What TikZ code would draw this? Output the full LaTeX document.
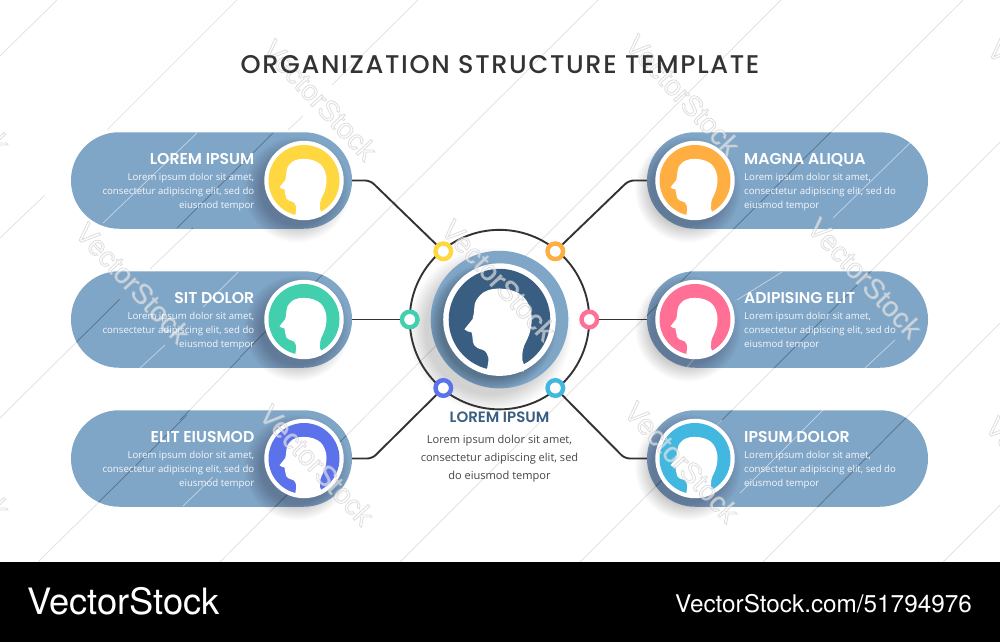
\documentclass[tikz,border=0pt]{standalone}
\usepackage{fontspec}
\usetikzlibrary{calc}
\setmainfont{Open Sans}
\newfontfamily\titlef[LetterSpace=6.5]{Poppins Medium}
\newfontfamily\headf{Poppins SemiBold}
\newfontfamily\wmf{Liberation Sans}
\newfontfamily\footf{TeX Gyre Heros}
\definecolor{pillc}{HTML}{7FA5C7}
\definecolor{darkc}{HTML}{3A5E82}
\definecolor{linec}{HTML}{333333}
\definecolor{yel}{HTML}{FFD740}
\definecolor{ora}{HTML}{FFAE42}
\definecolor{tea}{HTML}{42CFAE}
\definecolor{pin}{HTML}{FF6F96}
\definecolor{blu}{HTML}{5B72EA}
\definecolor{cya}{HTML}{42B7E0}
\tikzset{
  pillbox/.style={rectangle,rounded corners=48.2pt,fill=pillc,minimum width=281pt,minimum height=96.5pt,inner sep=0},
  conn/.style={draw=linec,line width=1.9pt,rounded corners=5pt},
  dotnode/.style={circle,fill=white,draw=#1,line width=4.4pt,minimum size=15.6pt,inner sep=0},
  headt/.style={font=\headf\fontsize{15.7}{17}\selectfont,text=white,inner sep=0},
  bodyl/.style={font=\fontsize{9.65}{14.4}\selectfont,text=white,inner sep=0,align=right,anchor=north east,text opacity=.92},
  bodyr/.style={font=\fontsize{9.65}{14.4}\selectfont,text=white,inner sep=0,align=left,anchor=north west,text opacity=.92},
  grayseg/.style={black,opacity=.13,line width=.7pt},
  lightseg/.style={white,opacity=.55,line width=.7pt},
  darkseg/.style={black,opacity=.2,line width=.7pt},
}
\newcommand{\headpic}[2]{%
  \begin{scope}[shift={(#1)},x=#2pt,y=-#2pt]
    \fill[white] (-.01,-.61) .. controls (-.2,-.61) and (-.32,-.55) .. (-.38,-.48)
      .. controls (-.46,-.40) and (-.49,-.33) .. (-.495,-.25)
      .. controls (-.50,-.15) and (-.51,-.08) .. (-.53,-.01)
      -- (-.69,.19) .. controls (-.66,.23) and (-.6,.24) .. (-.55,.25)
      .. controls (-.53,.30) and (-.54,.33) .. (-.53,.37)
      .. controls (-.53,.42) and (-.52,.46) .. (-.50,.50)
      .. controls (-.46,.55) and (-.42,.57) .. (-.38,.58)
      .. controls (-.30,.60) and (-.26,.63) .. (-.25,.665)
      .. controls (-.22,.72) and (-.21,.78) .. (-.22,.83)
      -- (-.245,.97) -- (-.245,1.02) -- (.48,1.02) -- (.48,.88)
      .. controls (.45,.82) and (.44,.78) .. (.45,.73)
      .. controls (.45,.64) and (.46,.57) .. (.49,.50)
      .. controls (.54,.40) and (.58,.32) .. (.60,.24)
      .. controls (.63,.12) and (.64,.01) .. (.63,-.09)
      .. controls (.61,-.25) and (.55,-.37) .. (.47,-.45)
      .. controls (.38,-.54) and (.2,-.61) .. (-.01,-.61) -- cycle;
  \end{scope}}
\newcommand{\softshadow}[4]{%
  \foreach \k in {0,...,#3}{\fill[black,opacity=#4] (#1) circle ({#2+1.2*(#3-\k)-4});}}
\newcommand{\wmark}[1]{%
  \node[rotate=-47,font=\wmf\fontsize{28.5}{30}\selectfont,inner sep=0,text opacity=.55] at (#1) {\special{pdf:code q 2 Tr 0.8 w 0.76 0.76 0.76 RG 1 1 1 rg}VectorStock\special{pdf:code Q}};}
\newcommand{\graylist}{0/56/57/0,107/130/237/0,332/85/418/0,288/130/303/116,177/228/273/133,150/269/193/228,0/418/120/299,0/238/45/195,38/562/187/415,180/420/240/358,240/357/598/0,220/562/781/0,400/562/963/0,580/562/1000/142,763/562/1000/323,943/562/1000/505}
\begin{document}
\begin{tikzpicture}[x=1pt,y=-1pt]
\useasboundingbox (0,0) rectangle (1000,642);
\begin{scope}
\clip (0,0) rectangle (1000,642);
\fill[white] (0,0) rectangle (1000,642);
\node[pillbox] (p1) at (211.5,180.5) {};
\node[pillbox] (p2) at (211.5,319.5) {};
\node[pillbox] (p3) at (211.5,458.5) {};
\node[pillbox] (q1) at (787.5,180.5) {};
\node[pillbox] (q2) at (787.5,319.5) {};
\node[pillbox] (q3) at (787.5,458.5) {};
\foreach \a/\b/\c/\d in \graylist
  \draw[grayseg] (\a,\b) -- (\c,\d);
\begin{scope}
  \clip[rounded corners=48.2pt] (71,132.2) rectangle (352,228.8) (71,271.2) rectangle (352,367.8) (71,410.2) rectangle (352,506.8)
     (647,132.2) rectangle (928,228.8) (647,271.2) rectangle (928,367.8) (647,410.2) rectangle (928,506.8);
  \foreach \a/\b/\c/\d in \graylist
    \draw[darkseg] (\a,\b) -- (\c,\d);
\end{scope}
\foreach \a/\b/\c/\d in {103/223/197/133,140/368/165/345,203/307/238/272,183/506/213/477,865/368/895/340,737/300/782/272,687/367/695/358,740/493/823/410,695/447/722/420,833/218/910/143}
  \draw[lightseg] (\a,\b) -- (\c,\d);
\foreach \cx/\cy/\col/\nm in {304/180.5/yel/a,304/319.5/tea/b,304/458.5/blu/c,695/180.5/ora/d,695/319.5/pin/e,695/458.5/cya/f}{
  \softshadow{\cx-7,\cy+9}{40}{14}{.016}
  \node[circle,fill=white,minimum size=79.4pt,inner sep=0] (w\nm) at (\cx,\cy) {};
  \node[circle,fill=\col,minimum size=71pt,inner sep=0] (k\nm) at (\cx,\cy) {};
  \headpic{\cx,\cy}{35.5}
}
\softshadow{490,330}{69}{14}{.012}
\node[circle,fill=pillc,minimum size=137.6pt,inner sep=0] (ring) at (499.5,319.6) {};
\begin{scope}
  \clip (499.5,319.6) circle (68.8);
  \softshadow{492.5,326.6}{56}{10}{.028}
\end{scope}
\node[circle,fill=white,minimum size=112.6pt,inner sep=0] (rw) at (499.5,319.6) {};
\node[circle,fill=darkc,minimum size=101.6pt,inner sep=0] (rd) at (499.5,319.6) {};
\headpic{499.5,319.6}{50.8}
\node[circle,draw=linec,line width=1.9pt,minimum size=179.5pt,inner sep=0] (orbit) at (499.5,319.6) {};
\node[dotnode=yel] (d1) at (443.3,251.3) {};
\node[dotnode=ora] (d2) at (555.3,251.3) {};
\node[dotnode=tea] (d3) at (409.7,319.5) {};
\node[dotnode=pin] (d4) at (589.3,319.5) {};
\node[dotnode=blu] (d5) at (443.3,388) {};
\node[dotnode=cya] (d6) at (555.3,388) {};
\draw[conn] (p1.east) -- ++(18,0) -- (d1);
\draw[conn] (p2.east) -- (d3);
\draw[conn] (p3.east) -- ++(20,0) -- (d5);
\draw[conn] (q1.west) -- ++(-18,0) -- (d2);
\draw[conn] (q2.west) -- (d4);
\draw[conn] (q3.west) -- ++(-22,0) -- (d6);
\wmark{320,100}\wmark{683,95}\wmark{499,280}\wmark{865,278}\wmark{133,283}\wmark{317,465}\wmark{682,462}
\wmark{-47,93}\wmark{-47,458}\wmark{1045,100}\wmark{1043,477}
\node[font=\titlef\fontsize{25.6}{28}\selectfont,text=linec,inner sep=0,anchor=base] (title) at (500,73) {ORGANIZATION STRUCTURE TEMPLATE};
\node[headt,anchor=base east] (h1) at (254.5,164) {LOREM IPSUM};
\node[bodyl] (t1) at (254.5,172.5) {Lorem ipsum dolor sit amet,\\consectetur adipiscing elit, sed do\\eiusmod tempor};
\node[headt,anchor=base east] (h2) at (254.5,303) {SIT DOLOR};
\node[bodyl] (t2) at (254.5,311.5) {Lorem ipsum dolor sit amet,\\consectetur adipiscing elit, sed do\\eiusmod tempor};
\node[headt,anchor=base east] (h3) at (254.5,442) {ELIT EIUSMOD};
\node[bodyl] (t3) at (254.5,450.5) {Lorem ipsum dolor sit amet,\\consectetur adipiscing elit, sed do\\eiusmod tempor};
\node[headt,anchor=base west] (h4) at (744,164) {MAGNA ALIQUA};
\node[bodyr] (t4) at (744,172.5) {Lorem ipsum dolor sit amet,\\consectetur adipiscing elit, sed do\\eiusmod tempor};
\node[headt,anchor=base west] (h5) at (744,303) {ADIPISING ELIT};
\node[bodyr] (t5) at (744,311.5) {Lorem ipsum dolor sit amet,\\consectetur adipiscing elit, sed do\\eiusmod tempor};
\node[headt,anchor=base west] (h6) at (744,442) {IPSUM DOLOR};
\node[bodyr] (t6) at (744,450.5) {Lorem ipsum dolor sit amet,\\consectetur adipiscing elit, sed do\\eiusmod tempor};
\node[font=\headf\fontsize{15}{17}\selectfont,text=darkc,inner sep=0,anchor=base] (hc) at (499.5,422) {LOREM IPSUM};
\node[font=\fontsize{11.05}{18}\selectfont,text=linec!90,inner sep=0,align=center,anchor=north] (tc) at (499.5,434.5) {Lorem ipsum dolor sit amet,\\consectetur adipiscing elit, sed\\do eiusmod tempor};
\fill[black] (0,562) rectangle (1000,642);
\node[font=\footf\fontsize{36.3}{40}\selectfont,text=white,inner sep=0,anchor=base west] (f1) at (27,614) {VectorStock};
\node[font=\footf\fontsize{24.3}{28}\selectfont,text=white,inner sep=0,anchor=base east] (f2) at (972,612) {VectorStock.com/51794976};
\end{scope}
\end{tikzpicture}
\end{document}
